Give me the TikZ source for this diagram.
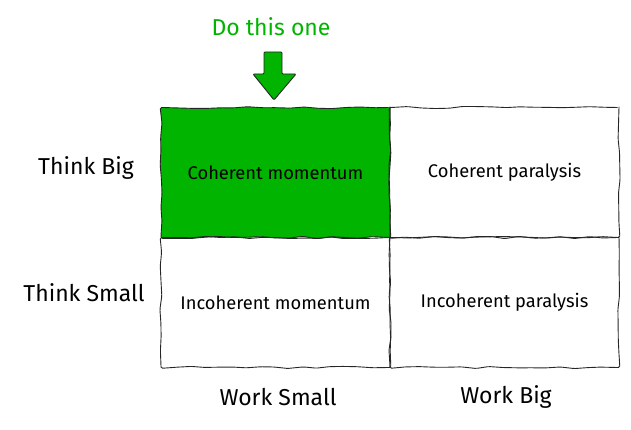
\documentclass[tikz,border=0pt]{standalone}
\usepackage{fontspec}
\setmainfont{Fira Sans}
\usetikzlibrary{decorations.pathmorphing}
\definecolor{hgreen}{RGB}{0,180,0}
\begin{document}
\begin{tikzpicture}[x=1pt,y=-1pt,
  sketch/.style={draw=black!85,line width=0.9pt,decorate,
    decoration={random steps,segment length=14pt,amplitude=1.1pt},rounded corners=1.5pt},
  cell/.style={sketch,minimum width=229pt,minimum height=130pt,inner sep=0pt,font=\fontsize{18.3}{21}\selectfont},
  axislabel/.style={font=\fontsize{23}{26}\selectfont}]
\pgfmathsetseed{7}
\useasboundingbox (0,0) rectangle (631,430);
\node[cell,fill=hgreen] (cm) at (275.5,172.5) {Coherent momentum};
\node[cell] (cp) at (504.5,172.5) {Coherent paralysis};
\node[cell] (im) at (275.5,302.5) {Incoherent momentum};
\node[cell] (ip) at (504.5,302.5) {Incoherent paralysis};
\node[axislabel] (tb) at (86,168) {Think Big};
\node[axislabel] (ts) at (84,293) {Think Small};
\node[axislabel] (ws) at (278,397) {Work Small};
\node[axislabel] (wb) at (506,397) {Work Big};
\node[axislabel,text=hgreen] (do) at (271,27) {Do this one};
\coordinate (tip) at (274,100);
\draw[fill=hgreen,draw=black!85,line width=0.9pt,line join=round,rounded corners=1pt]
  (264,52) -- (282,52) -- (282,74) -- (296,74) -- (tip) -- (253,74) -- (264,74) -- cycle;
\end{tikzpicture}
\end{document}
